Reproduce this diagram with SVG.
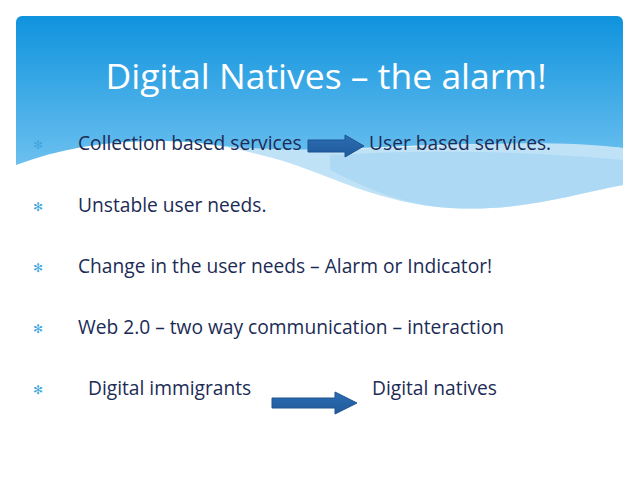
<svg xmlns="http://www.w3.org/2000/svg" width="638" height="478" viewBox="0 0 638 478">
<defs>
<linearGradient id="hg" x1="0" y1="0" x2="0" y2="1">
<stop offset="0" stop-color="#0f93dd"/><stop offset="1" stop-color="#6cc0ef"/>
</linearGradient>
<linearGradient id="ag" x1="0" y1="0" x2="0" y2="1">
<stop offset="0" stop-color="#2c6db2"/><stop offset="1" stop-color="#1f5a9c"/>
</linearGradient>
<clipPath id="hc"><rect x="16" y="16" width="607" height="200" rx="6"/></clipPath>
<style>
.b{font-family:"Open Sans","Liberation Sans",sans-serif;font-size:19.2px;fill:#1c2b55}
.s{font-family:"Liberation Sans",sans-serif;font-size:12px;fill:#3fa6dd}
.t{font-family:"Open Sans","Liberation Sans",sans-serif;font-size:35.5px;fill:#fff}
.arr{fill:url(#ag);stroke:#1d5591;stroke-width:1}
</style>
</defs>
<rect width="638" height="478" fill="#fff"/>
<g id="header" clip-path="url(#hc)">
<path d="M16 16 H623 V148 C520 140 400 146 320 150 C260 152 220 146 200 143 C130 137 70 145 16 165 Z" fill="url(#hg)"/>
<path d="M200 143 C260 152 320 150 400 147 C480 144 560 140 623 148 V185 C570 195 520 212 450 208 C380 204 330 175 280 160 C250 152 225 146 200 143 Z" fill="#bfe2f7"/>
<path d="M330 155 C420 150 520 150 623 160 V185 C570 195 520 212 450 208 C400 205 360 185 330 170 Z" fill="#a6d6f3" opacity="0.7"/>
<text class="t" x="326" y="89" text-anchor="middle">Digital Natives – the alarm!</text>
</g>
<g id="bullets">
<text class="s" x="33" y="149">✻</text><text class="b" x="78" y="150">Collection based services</text><text class="b" x="369" y="150">User based services.</text>
<text class="s" x="33" y="211">✻</text><text class="b" x="78" y="212">Unstable user needs.</text>
<text class="s" x="33" y="272">✻</text><text class="b" x="78" y="273">Change in the user needs – Alarm or Indicator!</text>
<text class="s" x="33" y="333">✻</text><text class="b" x="78" y="334">Web 2.0 – two way communication – interaction</text>
<text class="s" x="33" y="394">✻</text><text class="b" x="88" y="395">Digital immigrants</text><text class="b" x="372" y="395">Digital natives</text>
</g>
<g id="connectors">
<path class="arr" d="M308 140 L345 140 L345 135 L364 146 L345 157 L345 152 L308 152 Z"/>
<path class="arr" d="M272 398 L335 398 L335 392 L357 403 L335 414 L335 408 L272 408 Z"/>
</g>
</svg>
